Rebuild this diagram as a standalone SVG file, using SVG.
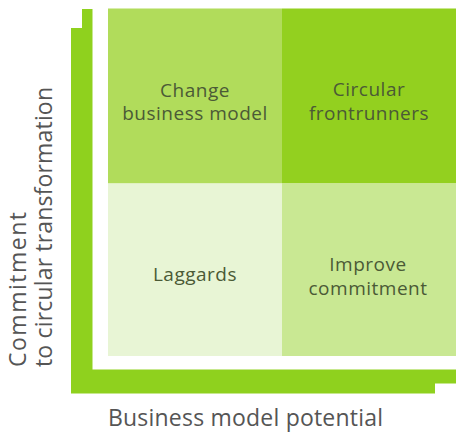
<svg xmlns="http://www.w3.org/2000/svg" width="474" height="433" viewBox="0 0 474 433">
<style>
.q text{font-family:"Open Sans","Liberation Sans",sans-serif;font-size:19px;fill:#4b5a36;text-anchor:middle;letter-spacing:0.5px}
.ax{font-family:"Open Sans","Liberation Sans",sans-serif;font-size:23px;fill:#555555}
.bar{fill:#8fd11e}
</style>
<rect width="474" height="433" fill="#ffffff"/>
<g id="axes">
<rect class="bar" x="82" y="9" width="10.5" height="384"/>
<rect class="bar" x="71" y="28" width="12" height="365"/>
<rect class="bar" x="71" y="369.5" width="385" height="14"/>
<rect class="bar" x="71" y="382" width="364" height="11.5"/>
</g>
<g id="q-change" class="q">
<rect x="108" y="8.5" width="174" height="175" fill="#b1dc5b"/>
<text x="195" y="96.5">Change</text>
<text x="195" y="120">business model</text>
</g>
<g id="q-frontrunners" class="q">
<rect x="282" y="8.5" width="174" height="175" fill="#93d01f"/>
<text x="369" y="96">Circular</text>
<text x="369" y="119.5">frontrunners</text>
</g>
<g id="q-laggards" class="q">
<rect x="108" y="183.5" width="174" height="172.5" fill="#e8f5d5"/>
<text x="195" y="281">Laggards</text>
</g>
<g id="q-improve" class="q">
<rect x="282" y="183.5" width="174" height="172.5" fill="#c9e893"/>
<text x="368" y="270.5">Improve</text>
<text x="368" y="294.5">commitment</text>
</g>
<text class="ax" x="108" y="426" textLength="275" lengthAdjust="spacing">Business model potential</text>
<text class="ax" transform="translate(26,367) rotate(-90)" textLength="155" lengthAdjust="spacing">Commitment</text>
<text class="ax" transform="translate(52,367) rotate(-90)" textLength="280" lengthAdjust="spacing">to circular transformation</text>
</svg>
